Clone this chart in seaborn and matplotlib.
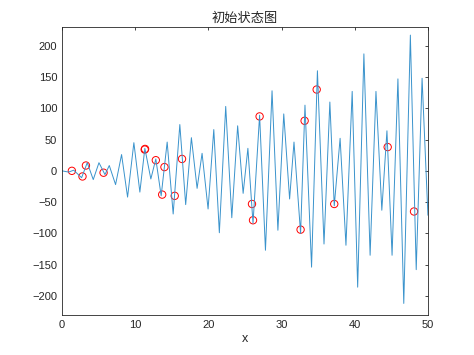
import numpy as np
import pandas as pd
import seaborn as sns
from matplotlib import pyplot as plt

# curve turning points
curve_x = [0, 0.9, 1.6, 2.68, 3.45, 4.27, 5.05, 5.87, 6.46, 7.32, 8.14, 8.96, 9.82, 10.64,
           11.32, 12.14, 12.82, 13.55, 14.37, 15.19, 16.1, 16.9, 17.68, 18.46, 19.14, 19.96,
           20.74, 21.5, 22.37, 23.2, 24.0, 24.75, 25.4, 26.1, 27.0, 27.8, 28.7, 29.5, 30.3,
           31.1, 31.7, 32.6, 33.2, 34.1, 34.9, 35.8, 36.6, 37.2, 38.0, 38.8, 39.65, 40.4,
           41.25, 42.1, 42.9, 43.7, 44.4, 45.1, 45.9, 46.7, 47.6, 48.4, 49.2, 50]
curve_y = [0, -2, 1, -11, 13, -14, 13, -6, 8.5, -22, 26, -42, 45, -34,
           36, -13, 19, -40, 46, -69, 74, -54, 53, -28, 28, -61,
           66, -99, 103, -75, 72, -36, 36, -84, 89, -127, 128, -95, 91,
           -45, 46, -100, 105, -154, 160, -117, 110, -56, 52, -119, 127, -186,
           187, -135, 127, -63, 64, -135, 147, -212, 217, -158, 148, -71]

# initial population (red circles)
pop_x = [1.35, 2.8, 3.27, 5.68, 11.3, 11.35, 12.82, 13.69, 14.0, 15.4,
         16.4, 25.96, 26.1, 27.0, 32.6, 33.15, 34.8, 37.2, 44.5, 48.1]
pop_y = [0, -9, 8.5, -3, 34, 35, 17, -38, 6, -40,
         19, -53, -79, 87, -94, 80, 130, -53, 38, -65]

x_ticks = [0, 10, 20, 30, 40, 50]
y_ticks = [-200, -150, -100, -50, 0, 50, 100, 150, 200]

sns.set_style("white")
plt.rcParams['font.family'] = ['Liberation Sans', 'Noto Sans CJK SC']

curve = pd.DataFrame({"x": curve_x, "y": curve_y})
pop = pd.DataFrame({"x": pop_x, "y": pop_y})

fig = plt.figure(figsize=(4.74, 3.55), dpi=100)
ax = fig.add_axes([0.1308, 0.1118, 0.772, 0.8122])

sns.lineplot(data=curve, x="x", y="y", ax=ax, color="#3a93cc", linewidth=0.7,
             estimator=None, sort=False)
sns.scatterplot(data=pop, x="x", y="y", ax=ax, marker="o", s=28,
                facecolor="none", edgecolor="#FF0000", linewidth=0.7)

ax.set_xlim(0, 50)
ax.set_ylim(-231, 230)
ax.set_xticks(x_ticks)
ax.set_yticks(y_ticks)
ax.tick_params(direction="in", top=True, right=True, length=2.5, width=0.6,
               labelsize=8, colors="#262626")
for s in ax.spines.values():
    s.set_color("#262626")
    s.set_linewidth(0.6)
ax.set_xlabel("x", fontsize=9, color="#262626", labelpad=2)
ax.set_ylabel("")
ax.set_title("初始状态图", fontsize=9.5, family=["Noto Sans CJK SC"], color="#262626", pad=4)

fig.savefig("out.png", dpi=100, facecolor="white")
